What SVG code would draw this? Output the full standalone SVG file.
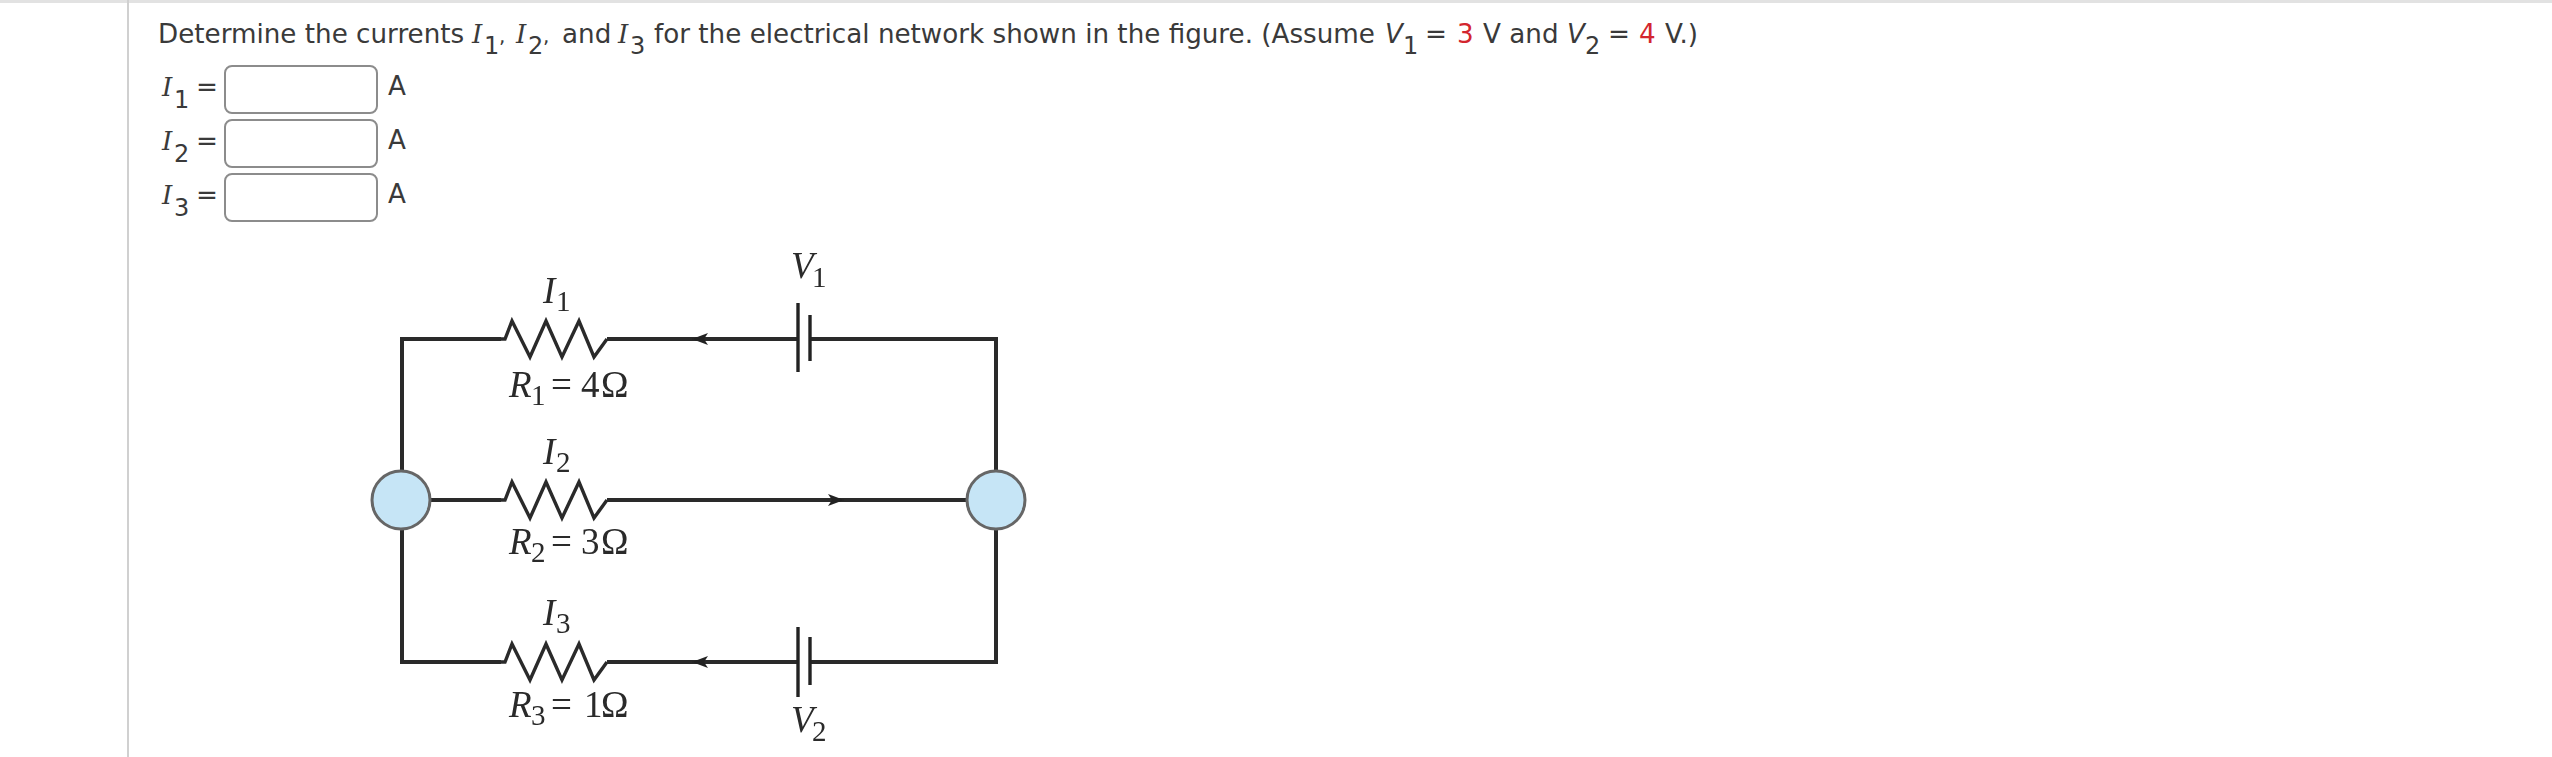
<svg xmlns="http://www.w3.org/2000/svg" width="2552" height="757" viewBox="0 0 2552 757">
<style>
.t{font-family:"DejaVu Sans",Verdana,sans-serif;font-size:26.2px;fill:#3a3a3a}
.u{font-family:"DejaVu Sans",Verdana,sans-serif;font-size:24px;fill:#3a3a3a}
.c{font-family:"DejaVu Sans",Verdana,sans-serif;font-size:20px;fill:#3a3a3a}
.i{font-family:"DejaVu Serif",serif;font-style:italic;font-size:26px;fill:#3a3a3a}
.o{font-family:"DejaVu Sans",sans-serif;font-style:italic;font-size:26.2px;fill:#3a3a3a}
.r{fill:#d3262e}
.box{fill:#fff;stroke:#8c8c8c;stroke-width:2}
.w{fill:none;stroke:#2a2a2a;stroke-width:4}
.z{fill:none;stroke:#2a2a2a;stroke-width:3.4;stroke-linejoin:miter}
.b{stroke:#222;stroke-width:3.4}
.n{fill:#c6e5f6;stroke:#666;stroke-width:3}
.f{font-family:"Liberation Serif",serif;font-size:37px;fill:#2a2a2a}
.f2{font-size:29px}
.it{font-style:italic}
.a{fill:#222}
</style>
<defs>
<path id="res" class="z" d="M0 0L4 0L11 -18L29 18L45 -18L61 18L78 -18L93 18L106 0"/>
<filter id="soft" x="-5%" y="-5%" width="110%" height="110%"><feGaussianBlur stdDeviation="0.6"/></filter>
</defs>
<rect width="2552" height="757" fill="#fff"/>
<rect x="0" y="0" width="2552" height="3" fill="#e2e2e2"/>
<rect x="127" y="0" width="2" height="757" fill="#d0d0d0"/>
<g id="question">
<text class="t" x="158" y="43">Determine the currents</text>
<text class="i" x="472" y="43">I</text><text class="u" x="484" y="54">1</text><text class="c" x="499" y="43">,</text>
<text class="i" x="516" y="43">I</text><text class="u" x="528" y="54">2</text><text class="c" x="543" y="43">,</text>
<text class="t" x="562" y="43">and</text>
<text class="i" x="618" y="43">I</text><text class="u" x="630" y="54">3</text>
<text class="t" x="654" y="43">for the electrical network shown in the figure. (Assume</text>
<text class="o" x="1385" y="43">V</text><text class="u" x="1403" y="54">1</text>
<text class="t" x="1425" y="43">=</text><text class="t r" x="1457" y="43">3</text><text class="t" x="1483" y="43">V and</text>
<text class="o" x="1567" y="43">V</text><text class="u" x="1585" y="54">2</text>
<text class="t" x="1608" y="43">=</text><text class="t r" x="1639" y="43">4</text><text class="t" x="1665" y="43">V.)</text>
</g>
<g id="answer-1"><text class="i" x="162" y="96">I</text><text class="u" x="174" y="108">1</text><text class="t" x="196" y="96">=</text><rect class="box" x="225" y="66" width="152" height="47" rx="7"/><text class="t" x="388" y="95">A</text></g>
<g id="answer-2"><text class="i" x="162" y="150">I</text><text class="u" x="174" y="162">2</text><text class="t" x="196" y="150">=</text><rect class="box" x="225" y="120" width="152" height="47" rx="7"/><text class="t" x="388" y="149">A</text></g>
<g id="answer-3"><text class="i" x="162" y="204">I</text><text class="u" x="174" y="216">3</text><text class="t" x="196" y="204">=</text><rect class="box" x="225" y="174" width="152" height="47" rx="7"/><text class="t" x="388" y="203">A</text></g>
<g id="connectors" filter="url(#soft)">
<path class="w" d="M402 500V339H501M607 339H798M810 339H996V500"/>
<path class="w" d="M402 500H501M607 500H996"/>
<path class="w" d="M402 500V662H501M607 662H798M810 662H996V500"/>
<path class="a" d="M692 339L708 333L704 339L708 345Z"/>
<path class="a" d="M844 500L828 494L832 500L828 506Z"/>
<path class="a" d="M692 662L708 656L704 662L708 668Z"/>
</g>
<g id="node-left" filter="url(#soft)"><circle class="n" cx="401" cy="500" r="29"/></g>
<g id="node-right" filter="url(#soft)"><circle class="n" cx="996" cy="500" r="29"/></g>
<g id="r1" filter="url(#soft)"><use href="#res" x="501" y="339"/><text class="f it" x="509" y="397">R</text><text class="f f2" x="531" y="405">1</text><text class="f" x="551" y="397">=</text><text class="f" x="581" y="397">4</text><text class="f" x="601" y="397">Ω</text><text class="f it" x="543" y="303">I</text><text class="f f2" x="556" y="311">1</text></g>
<g id="r2" filter="url(#soft)"><use href="#res" x="501" y="500"/><text class="f it" x="509" y="554">R</text><text class="f f2" x="531" y="562">2</text><text class="f" x="551" y="554">=</text><text class="f" x="581" y="554">3</text><text class="f" x="601" y="554">Ω</text><text class="f it" x="543" y="464">I</text><text class="f f2" x="556" y="472">2</text></g>
<g id="r3" filter="url(#soft)"><use href="#res" x="501" y="662"/><text class="f it" x="509" y="717">R</text><text class="f f2" x="531" y="725">3</text><text class="f" x="551" y="717">=</text><text class="f" x="584" y="717">1</text><text class="f" x="601" y="717">Ω</text><text class="f it" x="543" y="625">I</text><text class="f f2" x="556" y="633">3</text></g>
<g id="v1" filter="url(#soft)"><line class="b" x1="798" y1="303" x2="798" y2="372"/><line class="b" x1="810" y1="315" x2="810" y2="361"/><text class="f it" x="791" y="278">V</text><text class="f f2" x="812" y="287">1</text></g>
<g id="v2" filter="url(#soft)"><line class="b" x1="798" y1="627" x2="798" y2="697"/><line class="b" x1="810" y1="637" x2="810" y2="685"/><text class="f it" x="791" y="732">V</text><text class="f f2" x="812" y="741">2</text></g>
</svg>
